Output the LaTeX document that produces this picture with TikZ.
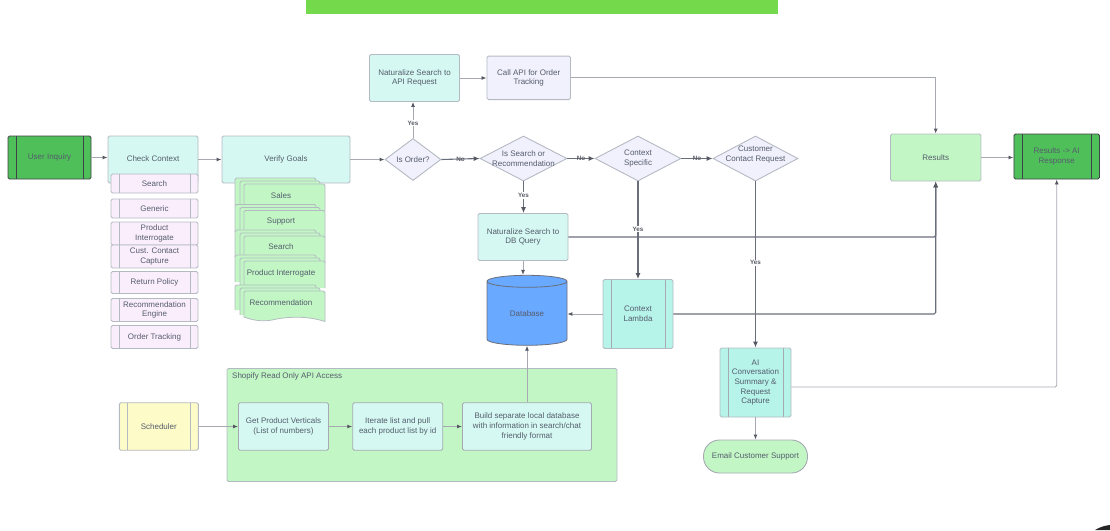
\documentclass[tikz,border=0pt]{standalone}
\usepackage{fontspec}
\setmainfont{Liberation Sans}
\usetikzlibrary{arrows.meta,shapes.geometric,calc}
\definecolor{txt}{HTML}{555C6C}
\definecolor{edgeg}{HTML}{B4BAC2}
\definecolor{wire}{HTML}{A6A9B2}
\definecolor{wired}{HTML}{6A6E7A}
\definecolor{tealL}{HTML}{D5F9F2}
\definecolor{tealM}{HTML}{B6F4EA}
\definecolor{greenL}{HTML}{C2F7C5}
\definecolor{greenD}{HTML}{4FBF5A}
\definecolor{purp}{HTML}{FAEEFC}
\definecolor{lav}{HTML}{F1F1FD}
\definecolor{blueD}{HTML}{69A9FF}
\definecolor{yel}{HTML}{FDFBC8}
\definecolor{topbar}{HTML}{74D94B}
\tikzset{
  every node/.style={font=\fontsize{8}{9.6}\selectfont, text=txt, align=center, inner sep=0pt},
  box/.style={draw=edgeg, line width=0.9pt, rounded corners=1.5pt},
  proc/.style={box, path picture={
     \draw[draw=#1,line width=0.9pt] ([xshift=8pt]path picture bounding box.north west) -- ([xshift=8pt]path picture bounding box.south west);
     \draw[draw=#1,line width=0.9pt] ([xshift=-8pt]path picture bounding box.north east) -- ([xshift=-8pt]path picture bounding box.south east);}},
  purpbox/.style={proc=edgeg, fill=purp, minimum width=87pt},
  dia/.style={diamond, draw=edgeg, line width=0.9pt, fill=lav, aspect=1.9},
  conn/.style={draw=wire, line width=0.9pt, -{Latex[length=5pt,width=4pt,color=wired!80!black]}},
  connd/.style={draw=wired, line width=1.1pt, -{Latex[length=6pt,width=5pt,color=wired!80!black]}},
  lbl/.style={font=\bfseries\fontsize{6.3}{7}\selectfont, text=wired!85!black},
  lblw/.style={lbl, fill=white, inner sep=1pt},
}
\newcommand{\stacklayer}[3]{% x0, x1, top
  \draw[draw=edgeg,fill=greenL,line width=0.8pt,rounded corners=1.5pt] (#1,#3+27) -- (#1,#3) -- (#2,#3) -- (#2,#3+27);}
\newcommand{\stackdoc}[4]{% name, back top, text y, text
  \stacklayer{235}{316}{#2}
  \stacklayer{240}{320}{#2+3}
  \stacklayer{244}{325}{#2+6}
  \node (#1) at (281,#3) {#4};}
\begin{document}
\begin{tikzpicture}[x=1pt,y=-1pt]
\useasboundingbox (0,0) rectangle (1110,530);
\fill[topbar] (306,0) rectangle (778,14);
\fill[black!85] (1095,530) .. controls (1100,527) and (1105,525.5) .. (1110,525) -- (1110,530) -- cycle;

% main row
\node[proc=wired!60!black, fill=greenD, draw=wired!60!black, minimum width=83pt, minimum height=43pt] (user) at (49.5,157.5) {User Inquiry};
\node[box, fill=tealL, minimum width=90pt, minimum height=47pt] (check) at (153,159.5) {\raisebox{1pt}{Check Context}};
\node[box, fill=tealL, minimum width=128pt, minimum height=47pt] (verify) at (286,159.5) {\raisebox{1pt}{Verify Goals}};

% context list
\node[purpbox, minimum height=19pt] (c1) at (154.5,183.5) {Search};
\node[purpbox, minimum height=19pt] (c2) at (154.5,208.5) {Generic};
\node[purpbox, minimum height=23pt] (c3) at (154.5,233.5) {Product\\Interrogate};
\node[purpbox, minimum height=23pt] (c4) at (154.5,256.5) {Cust. Contact\\Capture};
\node[purpbox, minimum height=22pt] (c5) at (154.5,282.5) {Return Policy};
\node[purpbox, minimum height=23pt] (c6) at (154.5,310) {Recommendation\\Engine};
\node[purpbox, minimum height=23pt] (c7) at (154.5,337) {Order Tracking};

% goal stacks
\stackdoc{g1}{178}{195.5}{Sales}
\stackdoc{g2}{204.5}{222}{Support}
\stackdoc{g3}{230}{246.5}{Search}
\stackdoc{g4}{255}{273}{Product Interrogate}
\draw[draw=edgeg,fill=greenL,line width=0.8pt,rounded corners=1.5pt] (235,310) -- (235,285) -- (316,285) -- (316,312);
\draw[draw=edgeg,fill=greenL,line width=0.8pt,rounded corners=1.5pt] (240,315) -- (240,288) -- (320,288) -- (320,316);
\draw[draw=edgeg,fill=greenL,line width=0.8pt] (244,317) [rounded corners=1.5pt] -- (244,291) -- (325,291) [sharp corners] -- (325,321.5) .. controls (305,315) and (285,317) .. (272,320) .. controls (262,322) and (252,320) .. (244,317);
\node (g5) at (281,303) {Recommendation};

% decisions
\node[dia, aspect=1.33, minimum width=56pt, minimum height=42pt, label={center:Is Order?}] (isorder) at (413,159.5) {};
\node[dia, minimum width=87pt, minimum height=45pt, label={center:Is Search or\\Recommendation}] (issearch) at (523.5,158.5) {};
\node[dia, minimum width=86pt, minimum height=45pt, label={center:Context\\Specific}] (ctxspec) at (638,158.5) {};
\node[dia, minimum width=85pt, minimum height=45pt, label={[yshift=4pt]center:Customer\\Contact Request}] (custreq) at (755.5,158.5) {};

% top boxes
\node[box, fill=tealL, minimum width=90pt, minimum height=47pt] (natapi) at (414.5,78) {Naturalize Search to\\API Request};
\node[box, fill=lav, minimum width=83.5pt, minimum height=43.5pt] (callapi) at (528.7,77.8) {Call API for Order\\Tracking};

% middle
\node[box, fill=tealL, minimum width=90pt, minimum height=47pt] (natdb) at (523,237) {Naturalize Search to\\DB Query};
\node[cylinder, shape border rotate=90, aspect=0.35, draw=wired, line width=0.8pt, fill=blueD, minimum width=80pt, minimum height=70pt] (db) at (527,313.5) {\raisebox{-2.5pt}{Database}};
\node[proc=wire, fill=tealM, minimum width=70pt, minimum height=69pt] (lambda) at (638,314) {Context\\Lambda};
\node[proc=wire, fill=tealM, minimum width=71pt, minimum height=69pt] (aisum) at (755.5,382.5) {AI\\Conversation\\Summary \&\\Request\\Capture};
\node[box, rounded corners=16pt, draw=wire, fill=greenL, minimum width=104pt, minimum height=33pt] (email) at (755.5,456.5) {Email Customer Support};

% results
\node[box, fill=greenL, minimum width=90.5pt, minimum height=47pt] (results) at (935.7,157.5) {Results};
\node[proc=wired!60!black, fill=greenD, draw=wired!60!black, minimum width=85.5pt, minimum height=45pt] (resai) at (1056.7,156.5) {Results -> AI\\Response};

% shopify
\node[box, fill=greenL, minimum width=390pt, minimum height=113pt] (shopify) at (422,425) {};
\node[anchor=west] (shoplabel) at (232,376.5) {Shopify Read Only API Access};
\node[proc=edgeg, fill=yel, minimum width=79pt, minimum height=47.5pt] (sched) at (158.8,426.5) {Scheduler};
\node[box, fill=tealL, draw=wire, minimum width=90pt, minimum height=47.5pt] (getpv) at (283.5,426.5) {Get Product Verticals\\(List of numbers)};
\node[box, fill=tealL, draw=wire, minimum width=90pt, minimum height=47.5pt] (iter) at (397.7,426.5) {Iterate list and pull\\each product list by id};
\node[box, fill=tealL, draw=wire, minimum width=129pt, minimum height=47.5pt] (build) at (527,426.5) {Build separate local database\\with information in search/chat\\friendly format};

% connectors
\draw[conn] (user.east) -- (user.east -| check.west);
\draw[conn] (check.east) -- (verify.west);
\draw[conn] (verify.east) -- (isorder.west);
\draw[conn] (isorder.north) -- node[lblw, pos=.42] (yes1) {Yes} (isorder.north |- natapi.south);
\draw[connd] (isorder.east) -- node[lbl, pos=.5] (no1) {No} (issearch.west);
\draw[connd] (issearch.east) -- node[lbl, pos=.5] (no2) {No} (ctxspec.west);
\draw[connd] (ctxspec.east) -- node[lbl, pos=.5] (no3) {No} (custreq.west);
\draw[connd] (issearch.south) -- node[lblw, pos=.45] (yes2) {Yes} (issearch.south |- natdb.north);
\draw[conn] (natapi.east) -- (natapi.east -| callapi.west);
\draw[conn] (callapi.east) -| (results.north);
\draw[conn] (natdb.south) -- (natdb.south |- db.north);
\draw[connd, rounded corners=1.5pt] (natdb.east) -| (results.south);
\draw[connd] (ctxspec.south) -- node[lblw, pos=.49] (yes3) {Yes} (lambda.north);
\draw[connd, line width=1.2pt] (custreq.south) -- node[lblw, pos=.49] (yes4) {Yes} (aisum.north);
\draw[conn] (lambda.west) -- (lambda.west -| db.east);
\draw[connd, rounded corners=1.5pt] (lambda.east) -| (results.south);
\draw[conn] (results.east) -- (results.east -| resai.west);
\draw[conn, rounded corners=1.5pt] ($(aisum.east)+(0,4.5)$) -| (resai.south);
\draw[conn] (aisum.south) -- (email.north);
\draw[conn] (sched.east) -- (getpv.west);
\draw[conn] (getpv.east) -- (iter.west);
\draw[conn] (iter.east) -- (build.west);
\draw[conn] (build.north) -- (db.south);
\end{tikzpicture}
\end{document}
